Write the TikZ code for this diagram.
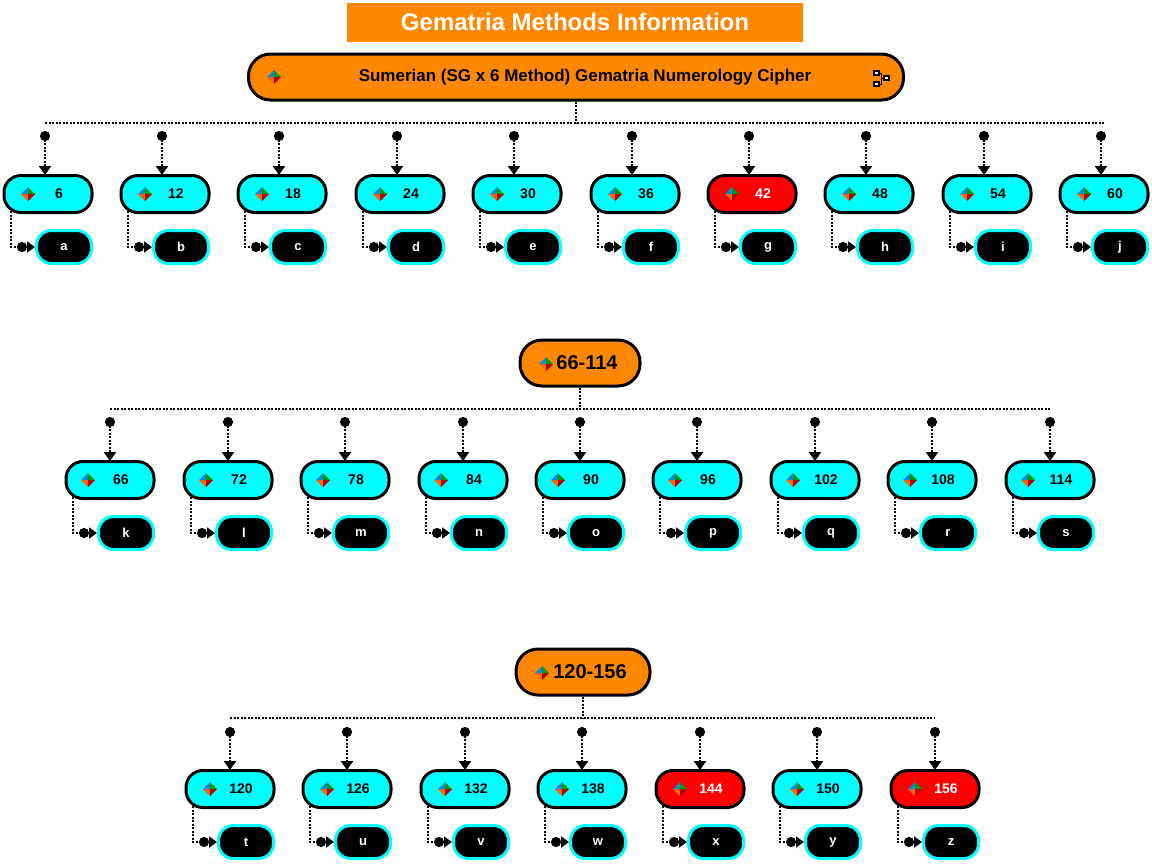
\documentclass[tikz,border=0pt]{standalone}
\usepackage{fontspec}
\setmainfont{Liberation Sans}
\usetikzlibrary{arrows.meta}
\definecolor{org}{HTML}{FF8800}
\definecolor{cy}{HTML}{00FFFF}
\definecolor{rd}{HTML}{FF0000}
\tikzset{
 pill/.style={rounded corners=17pt,draw=black,line width=3pt,font=\bfseries\fontsize{14}{14}\selectfont,inner sep=0pt},
 num/.style={pill,fill=cy,minimum width=88pt,minimum height=37pt},
 red/.style={fill=rd,text=white},
 leaf/.style={rounded corners=15pt,draw=cy,line width=3pt,fill=black,text=white,font=\bfseries\fontsize{13}{13}\selectfont,minimum width=55pt,minimum height=33pt,inner sep=0pt},
 root/.style={pill,fill=org,rounded corners=22pt,minimum height=46pt,font=\bfseries\fontsize{20}{20}\selectfont},
 dots/.style={line width=2.6pt,dash pattern=on 2pt off 1.5pt},
 drop/.style={dots,{Circle[length=10pt,width=10pt]}-{Triangle[length=9pt,width=12pt]}},
 side/.style={dots,-{Circle[length=10pt,width=10pt]Triangle[length=8pt,width=11pt]}},
 icon/.pic={\fill[orange!80!red] (0,0)--(-7,0)--(0,7)--cycle;\fill[red!70!black] (0,0)--(0,7)--(7,0)--cycle;\fill[green!60!black] (0,0)--(7,0)--(0,-7)--cycle;\fill[cyan!70!blue] (0,0)--(0,-7)--(-7,0)--cycle;}
}
\begin{document}
\begin{tikzpicture}[x=1pt,y=-1pt]
\useasboundingbox (0,0) rectangle (1152,863);
\node[fill=org,text=white,font=\bfseries\fontsize{24}{24}\selectfont,minimum width=456pt,minimum height=39pt] (title) at (575,22) {Gematria Methods Information};
\node[root,minimum width=655pt,font=\bfseries\fontsize{17}{17}\selectfont] (R1) at (576,77) {\hspace{18pt}Sumerian (SG x 6 Method) Gematria Numerology Cipher\hspace{30pt}};
\pic at (274,77) {icon};
\draw[line width=1.2pt,fill=white] (874,71) rectangle +(5,4) (874,82) rectangle +(5,4) (884,76) rectangle +(5,4);
\draw[line width=1pt] (879,73)--(881,73)--(881,84)--(879,84) (881,78)--(884,78);
\node[root,minimum width=120pt] (R2) at (580,363) {\hspace{14pt}66-114};
\pic at (546,364) {icon};
\node[root,minimum width=134pt] (R3) at (583,672) {\hspace{14pt}120-156};
\pic at (542,673) {icon};
% row 1
\coordinate (b1) at (576,123);
\draw[dots] (R1.south) -- (b1);
\draw[dots] (45,123) -- (1104,123);
\foreach \x/\v/\l/\s [count=\i] in {48/6/a/,165/12/b/,282/18/c/,400/24/d/,517/30/e/,635/36/f/,752/42/g/red,869/48/h/,987/54/i/,1104/60/j/}{
 \node[num,\s] (n1\i) at (\x,194) {\hspace{22pt}\v\hspace{6pt}};
 \pic at (\x-20,194) {icon};
 \node[leaf] (l1\i) at (\x+16,247) {\l};
 \coordinate (d1\i) at (\x-3,131);
 \draw[drop] (d1\i) -- (\x-3,175);
 \coordinate (s1\i) at (\x-37,211);
 \draw[side] (s1\i) |- (l1\i.west);
}
% row 2
\draw[dots] (R2.south) -- (580,409);
\draw[dots] (110,409) -- (1050,409);
\foreach \x/\v/\l [count=\i] in {110/66/k,228/72/l,345/78/m,463/84/n,580/90/o,697/96/p,815/102/q,932/108/r,1050/114/s}{
 \node[num] (n2\i) at (\x,480) {\hspace{22pt}\v\hspace{6pt}};
 \pic at (\x-22,480) {icon};
 \node[leaf] (l2\i) at (\x+16,533) {\l};
 \coordinate (d2\i) at (\x,417);
 \draw[drop] (d2\i) -- (\x,461);
 \coordinate (s2\i) at (\x-37,497);
 \draw[side] (s2\i) |- (l2\i.west);
}
% row 3
\draw[dots] (R3.south) -- (583,718);
\draw[dots] (230,718) -- (935,718);
\foreach \x/\v/\l/\s [count=\i] in {230/120/t/,347/126/u/,465/132/v/,582/138/w/,700/144/x/red,817/150/y/,935/156/z/red}{
 \node[num,\s] (n3\i) at (\x,789) {\hspace{22pt}\v\hspace{4pt}};
 \pic at (\x-20,789) {icon};
 \node[leaf] (l3\i) at (\x+16,842) {\l};
 \coordinate (d3\i) at (\x,727);
 \draw[drop] (d3\i) -- (\x,770);
 \coordinate (s3\i) at (\x-37,806);
 \draw[side] (s3\i) |- (l3\i.west);
}
\end{tikzpicture}
\end{document}
